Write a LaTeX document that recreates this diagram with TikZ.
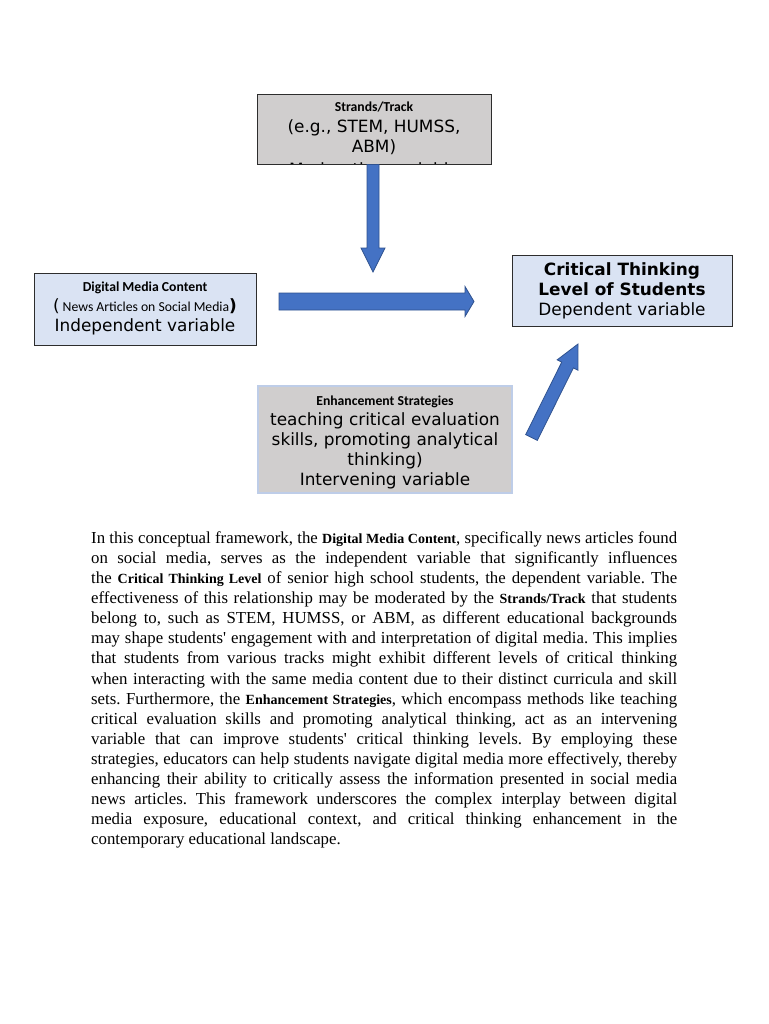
\documentclass[tikz,border=0pt]{standalone}
\usepackage{fontspec}
\setmainfont{Liberation Serif}[Ligatures=TeXOff]
\newfontfamily\dvs{DejaVu Sans}
\newfontfamily\crl{Carlito}
\usetikzlibrary{calc}
\definecolor{boxgray}{RGB}{208,206,206}
\definecolor{boxblue}{RGB}{218,227,243}
\definecolor{edgeblue}{RGB}{190,205,232}
\definecolor{arrfill}{RGB}{68,114,196}
\definecolor{arrline}{RGB}{47,82,143}
\definecolor{edgedark}{RGB}{45,45,45}
\newcommand\bt[1]{{\fontsize{14}{20.07}\selectfont\bfseries #1}}
\newcommand\ttl[1]{{\crl\bfseries\fontsize{13.7}{16}\selectfont #1}}
\newcommand\blockarrow[5]{%
  \coordinate (ba-h) at ($(#2)!#5!(#1)$);
  \filldraw[blockarr] ($(#1)!#3!90:(#2)$) -- ($(ba-h)!#3!90:(#2)$) -- ($(ba-h)!#4!90:(#2)$)
    -- (#2) -- ($(ba-h)!#4!-90:(#2)$) -- ($(ba-h)!#3!-90:(#2)$) -- ($(#1)!#3!-90:(#2)$) -- cycle;}
\begin{document}
\begin{tikzpicture}[x=1pt,y=-1pt,
  box/.style={rectangle, inner sep=0pt, line width=0.9pt},
  graybox/.style={box, fill=boxgray, draw=edgedark},
  bluebox/.style={box, fill=boxblue, draw=edgedark},
  enhbox/.style={box, fill=boxgray, draw=edgeblue, line width=1.6pt},
  boxtext/.style={align=center, inner sep=0pt, text=black, font=\dvs\fontsize{16.9}{20}\selectfont},
  blockarr/.style={fill=arrfill, draw=arrline, line width=0.8pt, line join=miter}]
\useasboundingbox (0,0) rectangle (768,1024);
\fill[white] (0,0) rectangle (768,1024);

% boxes
\node[graybox, minimum width=234pt, minimum height=70pt] (strands) at (374,129) {};
\node[bluebox, minimum width=222pt, minimum height=72pt] (dmc) at (145,309) {};
\node[bluebox, minimum width=220pt, minimum height=71pt] (ct) at (622,290.5) {};
\node[enhbox, minimum width=254pt, minimum height=107pt] (enh) at (385,439.5) {};

% texts
\begin{scope}
\clip (257.5,94.5) rectangle (490.5,163.5);
\node[boxtext, anchor=north] (strands-t) at (374,101.5) {\ttl{Strands/Track}\\[1.5pt](e.g., STEM, HUMSS,\\ABM)\\[2.5pt]Moderating variable};
\end{scope}
\node[boxtext] (dmc-t) at (145,308.5) {\ttl{Digital Media Content}\\{(}{\crl\fontsize{13.7}{16}\selectfont\ News Articles on Social Media}{\bfseries )}\\Independent variable};
\node[boxtext] (ct-t) at (622,291) {{\bfseries Critical Thinking}\\{\bfseries Level of Students}\\Dependent variable};
\node[boxtext] (enh-t) at (385,442) {\ttl{Enhancement Strategies}\\teaching critical evaluation\\skills, promoting analytical\\thinking)\\Intervening variable};

% arrows
\coordinate (a1s) at (373,164.5);
\coordinate (a1e) at (373,272);
\coordinate (a2s) at (279,301.5);
\coordinate (a2e) at (474,301.5);
\coordinate (a3s) at (531.5,437.5);
\coordinate (a3e) at (578,344);
\blockarrow{a1s}{a1e}{6pt}{12pt}{24pt}
\blockarrow{a2s}{a2e}{8.5pt}{15pt}{9pt}
\blockarrow{a3s}{a3e}{6.5pt}{11.6pt}{23.5pt}

% body text
\node[anchor=north west, inner sep=0pt, text width=586pt, align=justify,
  font=\fontsize{16.8}{20.07}\selectfont\frenchspacing] (body) at (91,531.5) {%
In this conceptual framework, the \bt{Digital Media Content}, specifically news articles found\linebreak
on social media, serves as the independent variable that significantly influences\linebreak
the \bt{Critical Thinking Level} of senior high school students, the dependent variable. The\linebreak
effectiveness of this relationship may be moderated by the \bt{Strands/Track} that students\linebreak
belong to, such as STEM, HUMSS, or ABM, as different educational backgrounds\linebreak
may shape students' engagement with and interpretation of digital media. This implies\linebreak
that students from various tracks might exhibit different levels of critical thinking\linebreak
when interacting with the same media content due to their distinct curricula and skill\linebreak
sets. Furthermore, the \bt{Enhancement Strategies}, which encompass methods like teaching\linebreak
critical evaluation skills and promoting analytical thinking, act as an intervening\linebreak
variable that can improve students' critical thinking levels. By employing these\linebreak
strategies, educators can help students navigate digital media more effectively, thereby\linebreak
enhancing their ability to critically assess the information presented in social media\linebreak
news articles. This framework underscores the complex interplay between digital\linebreak
media exposure, educational context, and critical thinking enhancement in the\linebreak
contemporary educational landscape.};
\end{tikzpicture}
\end{document}
